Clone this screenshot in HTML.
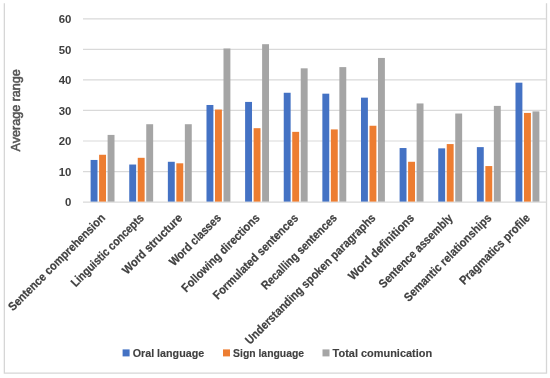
<!DOCTYPE html>
<html><head><meta charset="utf-8"><title>Chart</title>
<style>
html,body{margin:0;padding:0;background:#fff;}
body{width:550px;height:378px;overflow:hidden;}
text{font-family:"Liberation Sans",sans-serif;fill:#404040;}
.tick{font-size:11.6px;font-weight:bold;}
.cat{font-size:12px;font-weight:bold;stroke:#404040;stroke-width:0.22px;}
.leg{font-size:11.8px;font-weight:bold;stroke:#404040;stroke-width:0.15px;}
.ttl{font-size:13.1px;fill:#545454;stroke:#545454;stroke-width:0.55px;}
</style></head><body>
<svg width="550" height="378" viewBox="0 0 550 378" style="display:block">
<rect x="0" y="0" width="550" height="378" fill="#fff"/>
<path d="M4.35 3.2 V373.1 H546.5 V3.2" fill="none" stroke="#d6d6d6" stroke-width="1.3"/>
<line x1="83.0" x2="546.5" y1="202.10" y2="202.10" stroke="#d9d9d9" stroke-width="1.2"/>
<text class="tick" x="71.4" y="206.25" text-anchor="end" textLength="6.35" lengthAdjust="spacingAndGlyphs">0</text>
<line x1="83.0" x2="546.5" y1="171.56" y2="171.56" stroke="#d9d9d9" stroke-width="1.2"/>
<text class="tick" x="71.4" y="175.71" text-anchor="end" textLength="12.70" lengthAdjust="spacingAndGlyphs">10</text>
<line x1="83.0" x2="546.5" y1="141.02" y2="141.02" stroke="#d9d9d9" stroke-width="1.2"/>
<text class="tick" x="71.4" y="145.17" text-anchor="end" textLength="12.70" lengthAdjust="spacingAndGlyphs">20</text>
<line x1="83.0" x2="546.5" y1="110.47" y2="110.47" stroke="#d9d9d9" stroke-width="1.2"/>
<text class="tick" x="71.4" y="114.62" text-anchor="end" textLength="12.70" lengthAdjust="spacingAndGlyphs">30</text>
<line x1="83.0" x2="546.5" y1="79.93" y2="79.93" stroke="#d9d9d9" stroke-width="1.2"/>
<text class="tick" x="71.4" y="84.08" text-anchor="end" textLength="12.70" lengthAdjust="spacingAndGlyphs">40</text>
<line x1="83.0" x2="546.5" y1="49.39" y2="49.39" stroke="#d9d9d9" stroke-width="1.2"/>
<text class="tick" x="71.4" y="53.54" text-anchor="end" textLength="12.70" lengthAdjust="spacingAndGlyphs">50</text>
<line x1="83.0" x2="546.5" y1="18.85" y2="18.85" stroke="#d9d9d9" stroke-width="1.2"/>
<text class="tick" x="71.4" y="23.00" text-anchor="end" textLength="12.70" lengthAdjust="spacingAndGlyphs">60</text>
<rect x="90.61" y="159.95" width="6.9" height="41.65" fill="#4472c4"/>
<rect x="99.11" y="154.76" width="6.9" height="46.84" fill="#ed7d31"/>
<rect x="107.61" y="134.91" width="6.9" height="66.69" fill="#a5a5a5"/>
<rect x="129.24" y="164.53" width="6.9" height="37.07" fill="#4472c4"/>
<rect x="137.74" y="157.81" width="6.9" height="43.79" fill="#ed7d31"/>
<rect x="146.24" y="124.22" width="6.9" height="77.38" fill="#a5a5a5"/>
<rect x="167.86" y="161.78" width="6.9" height="39.81" fill="#4472c4"/>
<rect x="176.36" y="163.31" width="6.9" height="38.29" fill="#ed7d31"/>
<rect x="184.86" y="124.22" width="6.9" height="77.38" fill="#a5a5a5"/>
<rect x="206.49" y="104.98" width="6.9" height="96.62" fill="#4472c4"/>
<rect x="214.99" y="109.56" width="6.9" height="92.04" fill="#ed7d31"/>
<rect x="223.49" y="48.48" width="6.9" height="153.12" fill="#a5a5a5"/>
<rect x="245.11" y="101.92" width="6.9" height="99.68" fill="#4472c4"/>
<rect x="253.61" y="128.19" width="6.9" height="73.41" fill="#ed7d31"/>
<rect x="262.11" y="44.20" width="6.9" height="157.40" fill="#a5a5a5"/>
<rect x="283.74" y="92.76" width="6.9" height="108.84" fill="#4472c4"/>
<rect x="292.24" y="131.85" width="6.9" height="69.75" fill="#ed7d31"/>
<rect x="300.74" y="68.33" width="6.9" height="133.27" fill="#a5a5a5"/>
<rect x="322.36" y="93.68" width="6.9" height="107.92" fill="#4472c4"/>
<rect x="330.86" y="129.41" width="6.9" height="72.19" fill="#ed7d31"/>
<rect x="339.36" y="67.11" width="6.9" height="134.49" fill="#a5a5a5"/>
<rect x="360.99" y="97.65" width="6.9" height="103.95" fill="#4472c4"/>
<rect x="369.49" y="125.75" width="6.9" height="75.85" fill="#ed7d31"/>
<rect x="377.99" y="57.94" width="6.9" height="143.66" fill="#a5a5a5"/>
<rect x="399.61" y="148.04" width="6.9" height="53.56" fill="#4472c4"/>
<rect x="408.11" y="161.78" width="6.9" height="39.81" fill="#ed7d31"/>
<rect x="416.61" y="103.45" width="6.9" height="98.15" fill="#a5a5a5"/>
<rect x="438.24" y="148.35" width="6.9" height="53.25" fill="#4472c4"/>
<rect x="446.74" y="144.07" width="6.9" height="57.53" fill="#ed7d31"/>
<rect x="455.24" y="113.53" width="6.9" height="88.07" fill="#a5a5a5"/>
<rect x="476.86" y="147.12" width="6.9" height="54.48" fill="#4472c4"/>
<rect x="485.36" y="166.06" width="6.9" height="35.54" fill="#ed7d31"/>
<rect x="493.86" y="105.89" width="6.9" height="95.71" fill="#a5a5a5"/>
<rect x="515.49" y="82.68" width="6.9" height="118.92" fill="#4472c4"/>
<rect x="523.99" y="112.92" width="6.9" height="88.68" fill="#ed7d31"/>
<rect x="532.49" y="111.39" width="6.9" height="90.21" fill="#a5a5a5"/>
<text class="cat" transform="translate(105.91,218.7) rotate(-45)" text-anchor="end" textLength="131.35" lengthAdjust="spacingAndGlyphs">Sentence comprehension</text>
<text class="cat" transform="translate(144.54,218.7) rotate(-45)" text-anchor="end" textLength="97.45" lengthAdjust="spacingAndGlyphs">Linguistic concepts</text>
<text class="cat" transform="translate(183.16,218.7) rotate(-45)" text-anchor="end" textLength="79.50" lengthAdjust="spacingAndGlyphs">Word structure</text>
<text class="cat" transform="translate(221.79,218.7) rotate(-45)" text-anchor="end" textLength="67.75" lengthAdjust="spacingAndGlyphs">Word classes</text>
<text class="cat" transform="translate(260.41,218.7) rotate(-45)" text-anchor="end" textLength="104.76" lengthAdjust="spacingAndGlyphs">Following directions</text>
<text class="cat" transform="translate(299.04,218.7) rotate(-45)" text-anchor="end" textLength="115.01" lengthAdjust="spacingAndGlyphs">Formulated sentences</text>
<text class="cat" transform="translate(337.66,218.7) rotate(-45)" text-anchor="end" textLength="101.24" lengthAdjust="spacingAndGlyphs">Recalling sentences</text>
<text class="cat" transform="translate(376.29,218.7) rotate(-45)" text-anchor="end" textLength="178.47" lengthAdjust="spacingAndGlyphs">Understanding spoken paragraphs</text>
<text class="cat" transform="translate(414.91,218.7) rotate(-45)" text-anchor="end" textLength="87.67" lengthAdjust="spacingAndGlyphs">Word definitions</text>
<text class="cat" transform="translate(453.54,218.7) rotate(-45)" text-anchor="end" textLength="98.90" lengthAdjust="spacingAndGlyphs">Sentence assembly</text>
<text class="cat" transform="translate(492.16,218.7) rotate(-45)" text-anchor="end" textLength="118.01" lengthAdjust="spacingAndGlyphs">Semantic relationships</text>
<text class="cat" transform="translate(530.79,218.7) rotate(-45)" text-anchor="end" textLength="94.24" lengthAdjust="spacingAndGlyphs">Pragmatics profile</text>
<text class="ttl" transform="translate(19.8,110.3) rotate(-90)" text-anchor="middle" textLength="82.3" lengthAdjust="spacingAndGlyphs">Average range</text>
<rect x="122.6" y="349.4" width="7" height="7" fill="#4472c4"/>
<text class="leg" x="132.7" y="356.6" textLength="71.49" lengthAdjust="spacingAndGlyphs">Oral language</text>
<rect x="223.0" y="349.4" width="7" height="7" fill="#ed7d31"/>
<text class="leg" x="233.1" y="356.6" textLength="70.98" lengthAdjust="spacingAndGlyphs">Sign language</text>
<rect x="322.5" y="349.4" width="7" height="7" fill="#a5a5a5"/>
<text class="leg" x="332.6" y="356.6" textLength="99.55" lengthAdjust="spacingAndGlyphs">Total comunication</text>
</svg>
</body></html>
